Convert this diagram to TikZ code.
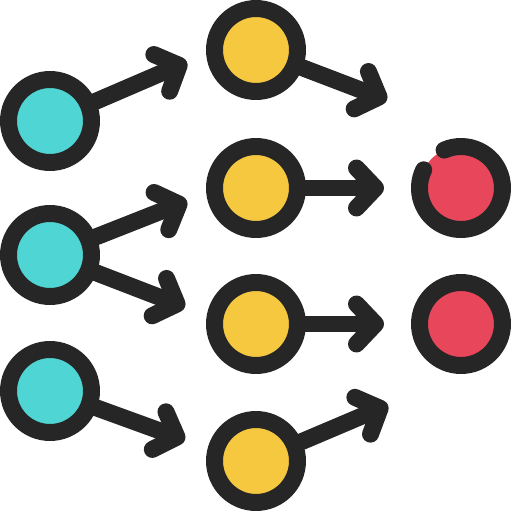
\documentclass[tikz,border=0pt]{standalone}
\usetikzlibrary{arrows.meta}

\definecolor{ink}{HTML}{262626}
\definecolor{tealfill}{HTML}{4FD5D4}
\definecolor{yellowfill}{HTML}{F6C83F}
\definecolor{redfill}{HTML}{E8465A}

\begin{document}
\begin{tikzpicture}[x=0.02cm, y=0.02cm, line cap=round, line join=round,
        unit/.style={circle, inner sep=0pt, minimum size=1.66cm, draw=ink, line width=0.34cm},
        edge_style/.style={draw=ink, line width=0.34cm, -{Straight Barb[length=0.38cm, width=0.8cm, round]}}]
        \useasboundingbox (0,0) rectangle (512,512);
        % left column
        \node[unit, fill=tealfill] (A1) at (50, 391) {};
        \node[unit, fill=tealfill] (A2) at (50, 257) {};
        \node[unit, fill=tealfill] (A3) at (50, 121) {};
        % middle column
        \node[unit, fill=yellowfill] (B1) at (256, 462) {};
        \node[unit, fill=yellowfill] (B2) at (256, 324) {};
        \node[unit, fill=yellowfill] (B3) at (256, 188) {};
        \node[unit, fill=yellowfill] (B4) at (256, 51) {};
        % right column
        \node[unit, draw=none, fill=redfill] (C1) at (461, 324) {};
        \node[unit, fill=redfill] (C2) at (461, 188) {};
        \draw[ink, line width=0.34cm] (C1.center) ++(154:41.5) arc[start angle=154, end angle=474, radius=41.5];
        % arrow tips
        \coordinate (a1) at (187, 450);
        \coordinate (a2) at (187, 311);
        \coordinate (a3) at (185, 205);
        \coordinate (a4) at (185, 72);
        \coordinate (b1) at (387, 412);
        \coordinate (b2) at (384, 324);
        \coordinate (b3) at (384, 188);
        \coordinate (b4) at (388, 107);
        \draw[edge_style] (A1) -- (a1);
        \draw[edge_style] (A2) -- (a2);
        \draw[edge_style] (A2) -- (a3);
        \draw[edge_style] (A3) -- (a4);
        \draw[edge_style] (B1) -- (b1);
        \draw[edge_style] (B2) -- (b2);
        \draw[edge_style] (B3) -- (b3);
        \draw[edge_style] (B4) -- (b4);
\end{tikzpicture}
\end{document}
